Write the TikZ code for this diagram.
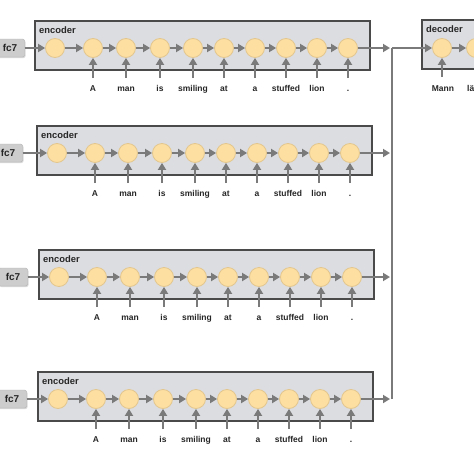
\documentclass[tikz,border=0pt]{standalone}
\usepackage{fontspec}
\setmainfont{Liberation Sans}
\usetikzlibrary{arrows.meta,shadows,calc}
\definecolor{boxfill}{HTML}{DCDDE1}
\definecolor{boxdraw}{HTML}{4A4A4A}
\definecolor{cellfill}{HTML}{FDDFA2}
\definecolor{celldraw}{HTML}{E2C68E}
\definecolor{arr}{HTML}{7A7A7A}
\definecolor{fcfill}{HTML}{CDCDCD}
\begin{document}
\begin{tikzpicture}[x=1pt,y=-1pt,
  encbox/.style={draw=boxdraw, fill=boxfill, line width=1.5pt, inner sep=0pt,
    drop shadow={shadow xshift=1.2pt, shadow yshift=-1.2pt, opacity=0.35}},
  cell/.style={circle, draw=celldraw, fill=cellfill, line width=0.8pt, minimum size=19pt, inner sep=0pt},
  conn/.style={draw=arr, line width=2pt, -{Triangle[length=7pt,width=8pt]}},
  plainline/.style={draw=arr, line width=2pt},
  word/.style={font=\bfseries\fontsize{8.5}{9}\selectfont, text=black!85, inner sep=0pt, anchor=base},
  lbl/.style={font=\bfseries\fontsize{9.4}{10}\selectfont, text=black!85, inner sep=0pt, anchor=north west},
  fcbox/.style={draw=gray!60, fill=fcfill, rounded corners=2pt, minimum width=29pt, minimum height=18pt,
    inner sep=0pt, font=\bfseries\fontsize{10}{11}\selectfont, text=black!85,
    drop shadow={shadow xshift=1pt, shadow yshift=-1pt, opacity=0.3}}
]
\useasboundingbox (0,0) rectangle (474,474);
\clip (0,0) rectangle (474,474);
\foreach \r/\cy/\dx/\fcx in {1/48/0/10, 2/153/2/8, 3/277/4/13, 4/399/3/12}{
  \node[encbox, minimum width=335pt, minimum height=49pt, anchor=north west] (enc\r) at (34+\dx,\cy-28) {};
  \node[lbl] (el\r) at (39+\dx,\cy-22) {encoder};
  \foreach \x [count=\i] in {55,93,126,160,193,224,255,286,317,348}{
    \node[cell] (c\r-\i) at (\x+\dx,\cy) {};
  }
  \foreach \i [evaluate=\i as \j using int(\i+1)] in {1,...,9}{
    \draw[conn] (c\r-\i) -- (c\r-\j);
  }
  \foreach \w [count=\i from 2] in {A,man,is,smiling,at,a,stuffed,lion,.}{
    \node[word] (w\r-\i) at ($(c\r-\i)+(0,43.5)$) {\w};
    \coordinate (s\r-\i) at ($(c\r-\i)+(0,30)$);
    \draw[conn] (s\r-\i) -- (c\r-\i);
  }
  \node[fcbox] (fc\r) at (\fcx,\cy) {fc7};
  \draw[conn] (fc\r) -- (c\r-1);
  \coordinate (o\r) at (390,\cy);
  \draw[conn] (c\r-10) -- (o\r);
}
% decoder
\node[encbox, minimum width=80pt, minimum height=49pt, anchor=north west] (dec) at (421,19) {};
\node[lbl] (dl) at (426,25) {decoder};
\node[cell] (d1) at (442,48) {};
\node[cell] (d2) at (476,48) {};
\draw[conn] (d1) -- (d2);
\coordinate (ds1) at (442,77);
\draw[conn] (ds1) -- (d1);
\node[word] (dw1) at (443,91) {Mann};
\node[word, anchor=base west] (dw2) at (467,91) {lächelt};
% merge line
\coordinate (jtop) at (392,48);
\coordinate (jbot) at (392,399);
\draw[plainline] (jbot) -- (jtop);
\draw[conn] (jtop) -- (d1);
\end{tikzpicture}
\end{document}
